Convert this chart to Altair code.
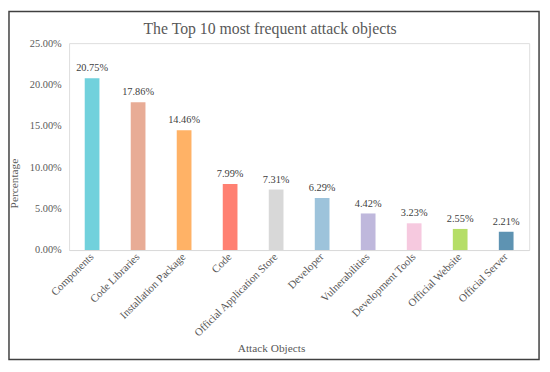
import altair as alt
import pandas as pd

categories = ["Components", "Code Libraries", "Installation Package", "Code",
              "Official Application Store", "Developer", "Vulnerabilities",
              "Development Tools", "Official Website", "Official Server"]
values = [0.2075, 0.1786, 0.1446, 0.0799, 0.0731, 0.0629, 0.0442, 0.0323, 0.0255, 0.0221]
colors = ["#71D1DC", "#E8AC96", "#FFB266", "#FF8072", "#D8D8D8",
          "#9DC3DB", "#BFB8DC", "#F6C9DF", "#B5DE67", "#5E93B2"]
title_text = "The Top 10 most frequent attack objects"

df = pd.DataFrame({"cat": categories, "val": values})

FONT = "Liberation Serif"
GRAY = "#595959"

x = alt.X("cat:N", sort=categories, title="Attack Objects",
          scale=alt.Scale(paddingInner=0.68, paddingOuter=0.34),
          axis=alt.Axis(labelAngle=-45, labelAlign="right", labelBaseline="middle",
                        labelFont=FONT, labelFontSize=11, labelColor=GRAY,
                        ticks=False, domainColor="#D9D9D9", domainWidth=1,
                        labelPadding=5,
                        titleFont=FONT, titleFontSize=11.5, titleFontWeight="normal",
                        titleColor=GRAY, titleX=205, titleY=94))
y = alt.Y("val:Q", title="Percentage",
          scale=alt.Scale(domain=[0, 0.25], nice=False),
          axis=alt.Axis(format=".2%", values=[0, 0.05, 0.1, 0.15, 0.2, 0.25],
                        grid=False, domain=False, ticks=False, labelPadding=8,
                        labelFont=FONT, labelFontSize=10.5, labelColor=GRAY,
                        titleFont=FONT, titleFontSize=11.5, titleFontWeight="normal",
                        titleColor=GRAY, titleX=-55, titleY=142,
                        titleBaseline="middle"))

base = alt.Chart(df)
bars = base.mark_bar().encode(
    x=x, y=y,
    color=alt.Color("cat:N", sort=categories,
                    scale=alt.Scale(domain=categories, range=colors), legend=None))
labels = base.mark_text(baseline="bottom", dy=-5, font=FONT, fontSize=10.5,
                        color="#404040").encode(
    x=alt.X("cat:N", sort=categories),
    y=alt.Y("val:Q"),
    text=alt.Text("val:Q", format=".2%"))

title = alt.Chart(pd.DataFrame({"t": [title_text]})).mark_text(
    font=FONT, fontSize=16, color=GRAY, baseline="alphabetic", align="center",
    clip=False).encode(
    x=alt.value(204), y=alt.value(-9), text="t:N")

border = alt.Chart(pd.DataFrame({"a": [0]})).mark_rect(
    fill=None, stroke="#404040", strokeWidth=1.5, clip=False).encode(
    x=alt.value(-61), x2=alt.value(477), y=alt.value(-32), y2=alt.value(321))

chart = alt.layer(bars, labels, title, border).properties(
    width=467, height=210,
    padding={"left": 62, "top": 33, "right": 13, "bottom": 113},
    autosize=alt.AutoSizeParams(type="none"),
).configure_view(stroke=None).configure(font=FONT)

chart.save("out.html", embed_options={"renderer": "svg", "actions": False})
